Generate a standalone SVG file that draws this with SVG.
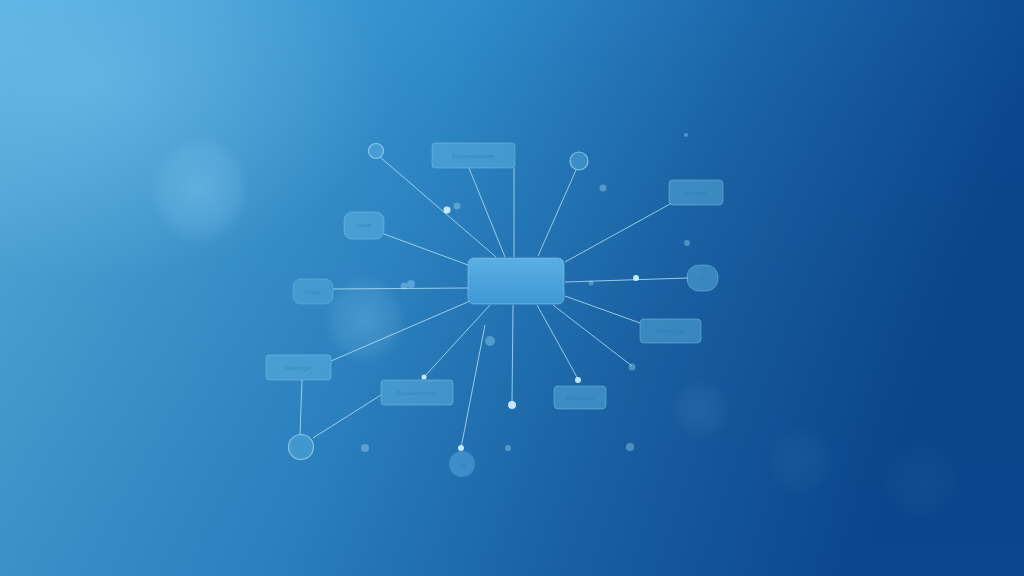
<svg xmlns="http://www.w3.org/2000/svg" width="1024" height="576" viewBox="0 0 1024 576">
<defs>
<linearGradient id="bg" x1="0" y1="0" x2="1" y2="0.2">
<stop offset="0" stop-color="#56b0e0"/>
<stop offset="0.45" stop-color="#2f8bca"/>
<stop offset="0.72" stop-color="#1b66aa"/>
<stop offset="1" stop-color="#0c4890"/>
</linearGradient>
<linearGradient id="vshade" x1="0" y1="0" x2="0" y2="1">
<stop offset="0" stop-color="#000" stop-opacity="0"/>
<stop offset="1" stop-color="#0a3a7a" stop-opacity="0.15"/>
</linearGradient>
<radialGradient id="glow" cx="0.5" cy="0.5" r="0.5">
<stop offset="0" stop-color="#8fd4f5" stop-opacity="0.35"/>
<stop offset="1" stop-color="#8fd4f5" stop-opacity="0"/>
</radialGradient>
<radialGradient id="bokeh" cx="0.5" cy="0.5" r="0.5">
<stop offset="0" stop-color="#9ad8f5" stop-opacity="0.3"/>
<stop offset="0.7" stop-color="#9ad8f5" stop-opacity="0.15"/>
<stop offset="1" stop-color="#9ad8f5" stop-opacity="0"/>
</radialGradient>
<linearGradient id="center" x1="0" y1="0" x2="0" y2="1">
<stop offset="0" stop-color="#5ab0e4"/>
<stop offset="1" stop-color="#3f97d4"/>
</linearGradient>
<style>
.node{fill:#6cc0ec;fill-opacity:0.42;stroke:#8fd2f3;stroke-opacity:0.4;stroke-width:1}
.ring{fill:#6cc0ec;fill-opacity:0.35;stroke:#a6defa;stroke-opacity:0.7;stroke-width:1.2}
.soft{fill:#5fb2e6;fill-opacity:0.45;stroke:none}
.lbl{font-family:"Liberation Sans",Arial,sans-serif;font-size:6px;fill:#2f78b5;fill-opacity:0.7;text-anchor:middle}
.edge{stroke:#bfe8fb;stroke-opacity:0.75;stroke-width:1;fill:none}
.dot{fill:#d8f3ff;fill-opacity:0.9}
.fdot{fill:#9fdcf7;fill-opacity:0.4}
</style>
</defs>
<rect width="1024" height="576" fill="url(#bg)"/>
<rect width="1024" height="576" fill="url(#vshade)"/>
<ellipse cx="90" cy="80" rx="300" ry="200" fill="url(#glow)"/>
<ellipse cx="200" cy="190" rx="50" ry="55" fill="url(#bokeh)"/>
<ellipse cx="365" cy="320" rx="42" ry="45" fill="url(#bokeh)" opacity="0.8"/>
<ellipse cx="700" cy="410" rx="30" ry="30" fill="url(#bokeh)" opacity="0.3"/>
<ellipse cx="800" cy="460" rx="35" ry="35" fill="url(#bokeh)" opacity="0.2"/>
<ellipse cx="920" cy="480" rx="40" ry="40" fill="url(#bokeh)" opacity="0.15"/>

<g id="particles">
<circle class="fdot" cx="603" cy="188" r="3.5"/>
<circle class="fdot" cx="687" cy="243" r="3"/>
<circle class="fdot" cx="686" cy="135" r="2"/>
<circle class="fdot" cx="411" cy="284" r="4"/>
<circle class="fdot" cx="404" cy="286" r="3.5"/>
<circle class="fdot" cx="490" cy="341" r="5"/>
<circle class="fdot" cx="365" cy="448" r="4"/>
<circle class="fdot" cx="508" cy="448" r="3"/>
<circle class="fdot" cx="630" cy="447" r="4"/>
<circle class="fdot" cx="591" cy="283" r="2.5"/>
</g>

<g id="connectors">
<line class="edge" x1="380" y1="157" x2="496" y2="257"/>
<line class="edge" x1="469" y1="168" x2="505" y2="257"/>
<line class="edge" x1="514" y1="168" x2="514" y2="257"/>
<line class="edge" x1="576" y1="170" x2="538" y2="256"/>
<line class="edge" x1="670" y1="204" x2="565" y2="262"/>
<line class="edge" x1="384" y1="234" x2="468" y2="265"/>
<line class="edge" x1="333" y1="289" x2="468" y2="288"/>
<line class="edge" x1="565" y1="282" x2="688" y2="278"/>
<line class="edge" x1="565" y1="296" x2="640" y2="323"/>
<line class="edge" x1="553" y1="305" x2="632" y2="366"/>
<line class="edge" x1="470" y1="301" x2="331" y2="361"/>
<line class="edge" x1="490" y1="305" x2="424" y2="377"/>
<line class="edge" x1="513" y1="305" x2="512" y2="404"/>
<line class="edge" x1="537" y1="305" x2="578" y2="379"/>
<line class="edge" x1="485" y1="325" x2="461" y2="448"/>
<line class="edge" x1="302" y1="380" x2="300" y2="435"/>
<line class="edge" x1="313" y1="438" x2="381" y2="395"/>
<circle class="dot" cx="447" cy="210" r="3.5"/>
<circle class="fdot" cx="457" cy="206" r="3.5"/>
<circle class="dot" cx="636" cy="278" r="3"/>
<circle class="fdot" cx="632" cy="367" r="3.5"/>
<circle class="dot" cx="424" cy="377" r="2.5"/>
<circle class="dot" cx="512" cy="405" r="4"/>
<circle class="dot" cx="578" cy="380" r="3"/>
<circle class="dot" cx="461" cy="448" r="3"/>
</g>

<g id="n-center"><rect x="468" y="258" width="96" height="46" rx="6" fill="url(#center)" stroke="#7fc8ef" stroke-opacity="0.6"/></g>
<g id="n-top"><rect class="node" x="432" y="143" width="83" height="25" rx="3"/><text class="lbl" x="473" y="158">Scommuspodes</text></g>
<g id="n-c1"><circle class="ring" cx="376" cy="151" r="7.5"/></g>
<g id="n-c2"><circle class="ring" cx="579" cy="161" r="9"/></g>
<g id="n-rt"><rect class="node" x="669" y="180" width="54" height="25" rx="4"/><text class="lbl" x="696" y="195">Rnsptae</text></g>
<g id="n-l1"><rect class="node" x="344" y="212" width="40" height="27" rx="8"/><text class="lbl" x="364" y="227">Ypeal</text></g>
<g id="n-l2"><rect class="node" x="293" y="279" width="40" height="25" rx="8" opacity="0.8"/><text class="lbl" x="313" y="294">Fnsge</text></g>
<g id="n-r1"><rect class="node" x="687" y="265" width="31" height="26" rx="12"/><text class="lbl" x="703" y="281">Ylp</text></g>
<g id="n-r2"><rect class="node" x="640" y="319" width="61" height="24" rx="4"/><text class="lbl" x="670" y="333">Rosmsone</text></g>
<g id="n-l3"><rect class="node" x="266" y="355" width="65" height="25" rx="3"/><text class="lbl" x="298" y="370">Nelwsrgie</text></g>
<g id="n-b1"><rect class="node" x="381" y="380" width="72" height="25" rx="3"/><text class="lbl" x="417" y="395">Rpouermonsld</text></g>
<g id="n-b2"><rect class="node" x="554" y="386" width="52" height="23" rx="4"/><text class="lbl" x="580" y="400">Mespuone</text></g>
<g id="n-c3"><circle class="ring" cx="301" cy="447" r="12.5"/></g>
<g id="n-c4"><circle class="soft" cx="462" cy="464" r="13"/><text class="lbl" x="462" y="467">Yg</text></g>
</svg>
